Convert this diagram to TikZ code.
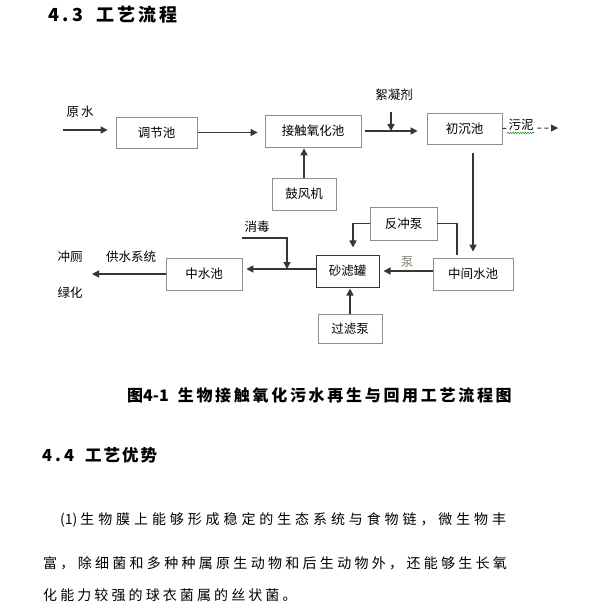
\documentclass[tikz,border=0pt]{standalone}
\usepackage{fontspec}
\setmainfont{Noto Sans CJK SC}
\usepackage{xcolor}
\usetikzlibrary{arrows.meta,positioning,calc,decorations.pathmorphing}
\definecolor{ink}{HTML}{363636}
\definecolor{boxgray}{HTML}{8E8E8E}
\definecolor{pumpgray}{HTML}{8A8070}
\newskip\spgap
\makeatletter
\def\spreadtxt#1#2{\spgap=#1\relax\spread@a#2\relax}
\def\spread@a#1{\ifx#1\relax\else#1\hskip\spgap\relax\expandafter\spread@a\fi}
\makeatother
\tikzset{
  box/.style={draw=boxgray,line width=0.8pt,align=center,font=\fontsize{12.5}{14}\selectfont,
              inner sep=0pt,fill=white},
  darkbox/.style={box,draw=ink,line width=1pt},
  lbl/.style={font=\fontsize{12.5}{14}\selectfont,inner sep=0pt},
  arr/.style={-{Triangle[length=7pt,width=7pt]},line width=1.5pt,ink},
  lin/.style={line width=1.5pt,ink},
  head/.style={font=\fontsize{18}{20}\selectfont\bfseries,inner sep=0pt,anchor=west},
  body/.style={font=\fontsize{14}{16}\selectfont,inner sep=0pt,anchor=west},
}
\begin{document}
\begin{tikzpicture}[x=1pt,y=-1pt]
  \useasboundingbox (0,0) rectangle (608,609);
  \node[head] (h43) at (48,15) {\spreadtxt{3.5pt}{4.3}\hskip10pt\spreadtxt{3pt}{工艺流程}};

  \node[box,minimum width=81pt,minimum height=31pt] (tj) at (156.5,132.5) {调节池};
  \node[box,minimum width=96pt,minimum height=32pt] (jc) at (313,131) {接触氧化池};
  \node[box,minimum width=64pt,minimum height=32pt] (gf) at (304,194) {鼓风机};
  \node[box,minimum width=75pt,minimum height=31pt] (cc) at (464.5,128.5) {初沉池};
  \node[box,minimum width=80pt,minimum height=32pt] (zj) at (473,274) {中间水池};
  \node[box,minimum width=67pt,minimum height=33pt] (fc) at (403.5,223.5) {反冲泵};
  \node[darkbox,minimum width=63pt,minimum height=32pt] (sl) at (347.5,271) {砂滤罐};
  \node[box,minimum width=64pt,minimum height=29pt] (gl) at (350,328.5) {过滤泵};
  \node[box,minimum width=76pt,minimum height=32pt] (zs) at (204,274) {中水池};

  \coordinate (yin) at (63,130);
  \node[lbl] (ys) at (80,112) {原\hskip2pt水};
  \draw[arr,shorten >=8pt] (yin) -- (yin -| tj.west);
  \draw[arr,shorten <=1pt,shorten >=7pt] (tj.east) -- (tj.east -| jc.west);
  \draw[arr,shorten >=1pt] (gf.north) -- (jc.south -| gf.north);
  \draw[arr,shorten <=4pt,shorten >=9pt] (jc.east) -- (jc.east -| cc.west);
  \node[lbl] (xn) at (394,95) {絮凝剂};
  \coordinate (xnin) at (391,112);
  \draw[arr] (xnin) -- (xnin |- jc.east);

  \coordinate (wout) at (558,128);
  \draw[arr,dash pattern=on 4pt off 3pt,line width=1pt] (cc.east) -- (wout);
  \node[lbl,fill=white,inner xsep=1pt] (wn) at (521,125) {污泥};
  \draw[green!55!black,line width=0.5pt,decorate,decoration={snake,amplitude=0.7pt,segment length=2.5pt}]
    ([yshift=-2pt]wn.south west) -- ([yshift=-2pt]wn.south east);

  \draw[arr,shorten <=9pt,shorten >=6pt] (zj.north |- cc.south) -- (zj.north);
  \draw[lin,shorten <=3pt] ([xshift=-16pt]zj.north) |- (fc.east);
  \draw[arr,shorten >=7pt] (fc.west) -| ([xshift=5.5pt]sl.north);
  \draw[arr,shorten >=4pt] (zj.west |- sl.east) -- (sl.east);
  \node[lbl,text=pumpgray] (bq) at (407,262) {泵};
  \draw[arr,shorten >=1pt] (gl.north) -- (gl.north |- sl.south);

  \coordinate (slout) at ([yshift=2pt]sl.west);
  \draw[arr,shorten >=4pt] (slout) -- (slout -| zs.east);
  \node[lbl] (xd) at (257,227) {消毒};
  \coordinate (xdin) at (242,238);
  \coordinate (xdx) at (287,238);
  \draw[arr] (xdin) -- (xdx) -- (xdx |- slout);

  \coordinate (gout) at (92,274);
  \draw[arr] (zs.west) -- (gout);
  \node[lbl] (gs) at (131,257) {供水系统};
  \node[lbl] (cs) at (70,257) {冲厕};
  \node[lbl] (lh) at (70,293) {绿化};

  \node[font=\fontsize{16}{18}\selectfont\bfseries,inner sep=0pt,anchor=west] (cap) at (127,395)
    {图4-1\hskip9pt\spreadtxt{2.7pt}{生物接触氧化污水再生与回用工艺流程图}};

  \node[head,font=\fontsize{16.5}{19}\selectfont\bfseries] (h44) at (42,455) {\spreadtxt{3pt}{4.4}\hskip8pt\spreadtxt{2pt}{工艺优势}};
  \node[body] (p1) at (60,520) {(1)\hskip3pt\spreadtxt{3.9pt}{生物膜上能够形成稳定的生态系统与食物链，微生物丰}};
  \node[body] (p2) at (43,563) {\spreadtxt{3.3pt}{富，除细菌和多种种属原生动物和后生动物外，还能够生长氧}};
  \node[body] (p3) at (43,595) {\spreadtxt{3.1pt}{化能力较强的球衣菌属的丝状菌。}};
\end{tikzpicture}
\end{document}
